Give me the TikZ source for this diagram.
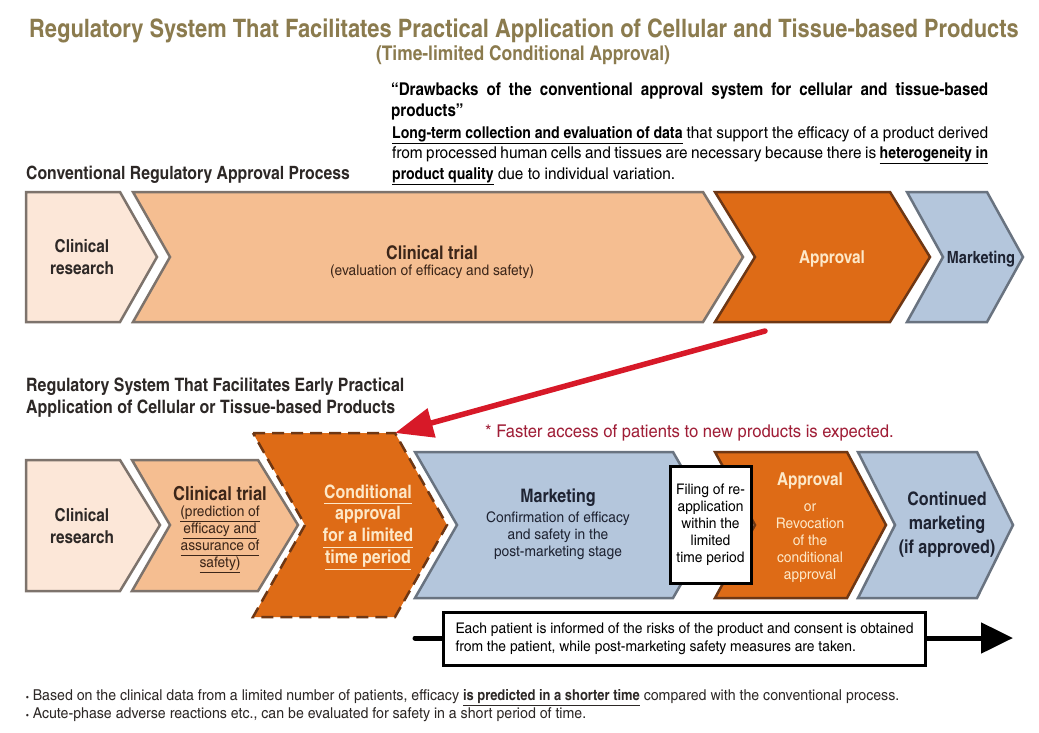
\documentclass[tikz,border=0pt]{standalone}
\usepackage{fontspec}
\setmainfont{texgyreheroscn}[Extension=.otf,UprightFont=*-regular,BoldFont=*-bold,ItalicFont=*-italic,BoldItalicFont=*-bolditalic,
  UprightFeatures={FakeStretch=1.15},BoldFeatures={FakeStretch=1.05}]
\usetikzlibrary{arrows.meta,positioning}
\definecolor{regtitle}{RGB}{139,123,78}
\definecolor{regpeach}{RGB}{252,231,216}
\definecolor{regtan}{RGB}{245,190,145}
\definecolor{regorange}{RGB}{222,107,22}
\definecolor{regbrown}{RGB}{110,55,20}
\definecolor{regblue}{RGB}{180,198,220}
\definecolor{regslate}{RGB}{105,115,128}
\definecolor{reggrey}{RGB}{125,115,108}
\definecolor{regcream}{RGB}{253,232,200}
\definecolor{regred}{RGB}{215,25,40}
\definecolor{regcrimson}{RGB}{160,30,55}
\definecolor{regnavy}{RGB}{30,35,50}
\definecolor{regdark}{RGB}{45,40,38}
\definecolor{regtext}{RGB}{60,38,25}
\newcommand\regfs[2]{\fontsize{#1}{#2}\selectfont}
\newcommand\regul[1]{\underline{#1\vphantom{(gp}}}

\begin{document}
\begin{tikzpicture}[x=1pt,y=-1pt,
  chev/.style={line width=2.5pt, line join=miter},
  headtxt/.style={font=\bfseries\regfs{18.6}{22}, align=center, inner sep=0pt},
  subtxt/.style={font=\regfs{14.6}{17}, align=center, inner sep=0pt},
  linetxt/.style={anchor=west, inner sep=0pt, text height=0.7em, text depth=0pt}]
  \fill[white] (0,0) rectangle (1039,732);
  \useasboundingbox (0,0) rectangle (1039,732);
  % Title
  \node[font=\bfseries\regfs{25.4}{30}, text=regtitle, inner sep=0pt] (title) at (524,31)
    {Regulatory System That Facilitates Practical Application of Cellular and Tissue-based Products};
  \node[font=\bfseries\regfs{20.2}{24}, text=regtitle, inner sep=0pt] (subtitle) at (523,55)
    {(Time-limited Conditional Approval)};
  % Drawbacks text
  \node[linetxt, font=\bfseries\regfs{17.6}{20}] (dbhead1) at (391,92)
    {\makebox[597pt][s]{“Drawbacks of the conventional approval system for cellular and tissue-based}};
  \node[linetxt, font=\bfseries\regfs{17.6}{20}] (dbhead2) at (391,113) {products”};
  \node[linetxt, font=\regfs{16.3}{19}] (dbbody1) at (392,135)
    {\makebox[596pt][s]{\textbf{\regul{Long-term collection and evaluation of data}} that support the efficacy of a product derived}};
  \node[linetxt, font=\regfs{16.3}{19}] (dbbody2) at (392,155)
    {\makebox[596pt][s]{from processed human cells and tissues are necessary because there is \textbf{\regul{heterogeneity in}}}};
  \node[linetxt, font=\regfs{16.3}{19}] (dbbody3) at (392,176)
    {\textbf{\regul{product quality}} due to individual variation.};
  % Conventional process
  \node[linetxt, font=\bfseries\regfs{18.3}{22}, text=regdark] (convlabel) at (26,176) {Conventional Regulatory Approval Process};
  \filldraw[chev, fill=regpeach, draw=reggrey] (26,192) -- (120,192) -- (157,257) -- (120,322) -- (26,322) -- cycle;
  \filldraw[chev, fill=regtan, draw=reggrey] (133,192) -- (703,192) -- (743,257) -- (703,322) -- (133,322) -- (170,257) -- cycle;
  \filldraw[chev, fill=regorange, draw=regbrown] (715,192) -- (890,192) -- (930,257) -- (890,322) -- (715,322) -- (755,257) -- cycle;
  \filldraw[chev, fill=regblue, draw=regslate] (907,192) -- (987,192) -- (1023,257) -- (987,322) -- (907,322) -- (943,257) -- cycle;
  \node[headtxt, font=\bfseries\regfs{17.8}{22}, text=regdark] (convresearch) at (82,257) {Clinical\\research};
  \node[headtxt, font=\bfseries\regfs{18.8}{22}, text=regtext] (convtrial) at (432,253) {Clinical trial};
  \node[subtxt, text=regtext] (convtrialsub) at (432,272) {(evaluation of efficacy and safety)};
  \node[headtxt, font=\bfseries\regfs{17.8}{22}, text=regcream] (convapproval) at (832,259) {Approval};
  \node[headtxt, font=\bfseries\regfs{16.8}{20}, text=regnavy] (convmarket) at (981,259) {Marketing};
  % Early approval system
  \node[linetxt, font=\bfseries\regfs{18.5}{22}, text=regdark] (newlabel1) at (26,388) {Regulatory System That Facilitates Early Practical};
  \node[linetxt, font=\bfseries\regfs{18.5}{22}, text=regdark] (newlabel2) at (26,410) {Application of Cellular or Tissue-based Products};
  \node[linetxt, font=\regfs{17.6}{20}, text=regcrimson] (faster) at (485,434) {* Faster access of patients to new products is expected.};
  \filldraw[chev, fill=regpeach, draw=reggrey] (26,460) -- (120,460) -- (160,525) -- (120,591) -- (26,591) -- cycle;
  \filldraw[chev, fill=regtan, draw=reggrey] (132,460) -- (258,460) -- (298,525) -- (258,591) -- (132,591) -- (170,525) -- cycle;
  \filldraw[chev, fill=regblue, draw=regslate] (415,452) -- (673,452) -- (715,525) -- (673,598) -- (415,598) -- (457,525) -- cycle;
  \filldraw[chev, fill=regorange, draw=regbrown] (715,452) -- (847,452) -- (886,525) -- (847,598) -- (715,598) -- (755,525) -- cycle;
  \filldraw[chev, fill=regblue, draw=regslate] (858,452) -- (977,452) -- (1013,525) -- (977,598) -- (858,598) -- (895,525) -- cycle;
  % Conditional approval (dashed)
  \fill[regorange] (253,433) -- (395,433) -- (447,525) -- (395,617) -- (253,617) -- (305,525) -- cycle;
  \draw[chev, draw=regbrown, dash pattern=on 12pt off 7pt] (253,433) -- (395,433) -- (447,525) -- (395,617) -- (253,617) -- (305,525) -- cycle;
  \coordinate (condcorner) at (395,433);
  \node[headtxt, font=\bfseries\regfs{17.8}{22}, text=regdark] (newresearch) at (82,526) {Clinical\\research};
  \node[headtxt, font=\bfseries\regfs{19.2}{22}, text=regtext] (newtrial) at (220,494) {Clinical trial};
  \node[subtxt, text=regtext] (newtrialsub) at (220,539)
    {\regul{(prediction of}\\\regul{efficacy and}\\\regul{assurance of}\\\regul{safety)}};
  \node[headtxt, font=\bfseries\regfs{18.5}{21.7}, text=regcream] (condapproval) at (368,527)
    {\regul{Conditional}\\approval\\\regul{for a limited}\\\regul{time period}};
  \node[headtxt, text=regnavy] (newmarket) at (558,498) {Marketing};
  \node[subtxt, text=regnavy] (newmarketsub) at (558,536)
    {Confirmation of efficacy\\and safety in the\\post-marketing stage};
  \node[subtxt, draw=black, line width=3pt, fill=white, minimum width=81pt, minimum height=117pt] (filing) at (710.5,524.5)
    {Filing of re-\\application\\within the\\limited\\time period};
  \node[headtxt, font=\bfseries\regfs{17.8}{22}, text=regcream] (newapproval) at (810,481) {Approval};
  \node[subtxt, text=regcream] (newapprovalsub) at (810,543)
    {or\\Revocation\\of the\\conditional\\approval};
  \node[headtxt, font=\bfseries\regfs{18.6}{24}, text=regnavy] (continued) at (947,525) {Continued\\marketing\\(if approved)};
  % Red arrow
  \coordinate (redstart) at (765,331);
  \draw[regred, line width=5.5pt, line cap=round, -{Triangle[length=38pt,width=29pt]}] (redstart) -- (condcorner);
  % Consent arrow
  \coordinate (consentstart) at (415,638);
  \coordinate (consentend) at (1013,638);
  \draw[black, line width=5pt, line cap=round, -{Triangle[length=32pt,width=30pt]}] (consentstart) -- (consentend);
  \node[draw=black, line width=3pt, fill=white, minimum width=482pt, minimum height=53pt, align=left,
    font=\regfs{14.7}{18}, inner xsep=10pt] (consent) at (684.5,639)
    {Each patient is informed of the risks of the product and consent is obtained\\from the patient, while post-marketing safety measures are taken.};
  % Notes
  \node[linetxt, font=\regfs{15}{17}, text=regdark] (note1) at (26,697)
    {{\regfs{8}{8}\textbullet}\ Based on the clinical data from a limited number of patients, efficacy \textbf{\regul{is predicted in a shorter time}} compared with the conventional process.};
  \node[linetxt, font=\regfs{15}{17}, text=regdark] (note2) at (26,715)
    {{\regfs{8}{8}\textbullet}\ Acute-phase adverse reactions etc., can be evaluated for safety in a short period of time.};
\end{tikzpicture}
\end{document}
